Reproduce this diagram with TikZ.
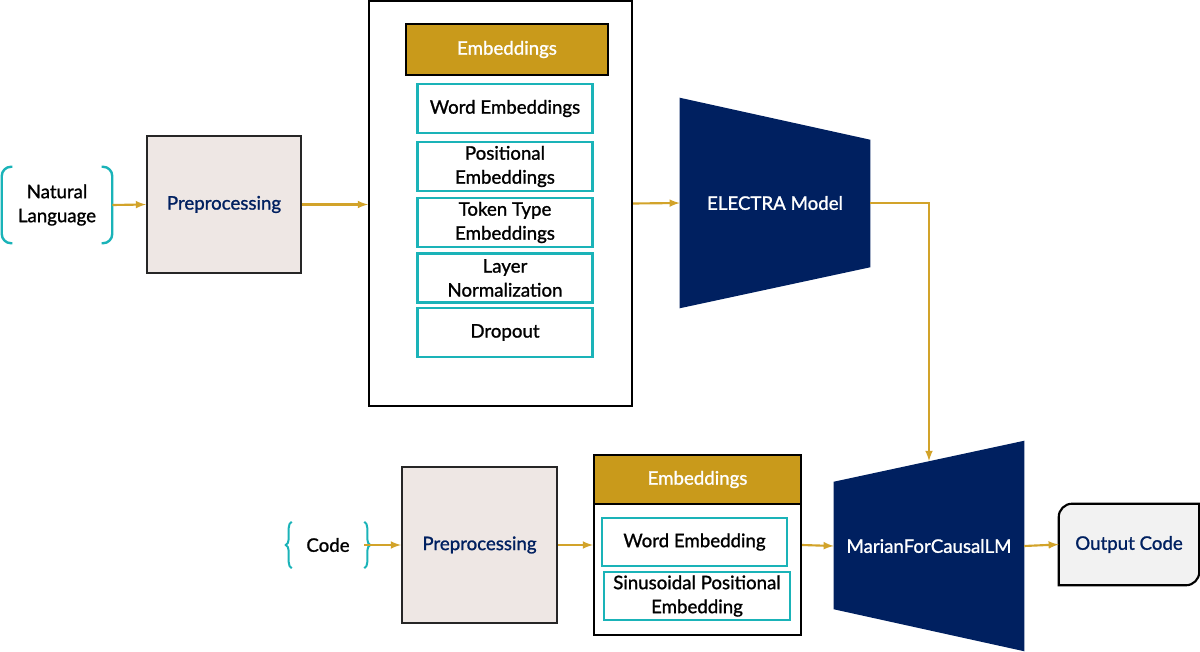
\documentclass[tikz,border=0pt]{standalone}
\usepackage{fontspec}
\setmainfont{Lato}[FakeBold=1.2]
\usetikzlibrary{arrows, shapes, decorations.pathreplacing, backgrounds}
\definecolor{gold}{HTML}{C99A1B}
\definecolor{arrowgold}{HTML}{D2A32A}
\definecolor{navy}{HTML}{002060}
\definecolor{tealline}{HTML}{1AB3B8}
\definecolor{prefill}{HTML}{EEE7E4}
\definecolor{outfill}{HTML}{F2F2F2}

\begin{document}
\begin{tikzpicture}[x=0.75pt, y=0.75pt, font=\fontsize{14}{18}\selectfont,
    flow/.style={arrowgold, line width=1.6pt, -latex},
    bracket/.style={tealline, line width=1.8pt, rounded corners=7pt},
    curly/.style={tealline, line width=1.5pt, decorate, decoration={brace, amplitude=4.5pt}},
    prebox/.style={draw=black!85, line width=1.6pt, fill=prefill, text=navy},
    headbox/.style={draw=black, line width=1.6pt, fill=gold, text=white},
    subbox/.style={draw=tealline, line width=1.8pt, fill=white, align=center, inner sep=0pt,
      minimum width=131.25pt, minimum height=36.75pt},
    model/.style={text=white, minimum width=142.5pt, minimum height=157.5pt}]
  \useasboundingbox (0,0) rectangle (1200,-652);

  % top row
  \node [align=center, minimum width=82.5pt, minimum height=57pt] (nl) at (57,-205) {Natural\\Language};
  \draw [bracket] ([xshift=8pt]nl.north west) -- (nl.north west) -- (nl.south west) -- ([xshift=8pt]nl.south west);
  \draw [bracket] ([xshift=-8pt]nl.north east) -- (nl.north east) -- (nl.south east) -- ([xshift=-8pt]nl.south east);
  \node [prebox, minimum width=115.5pt, minimum height=102.75pt] (pre1) at (224,-204.5) {Preprocessing};
  \node [draw, line width=1.6pt, minimum width=197.25pt, minimum height=303.75pt] (enc) at (500.5,-203.5) {};
  \node [headbox, minimum width=151.5pt, minimum height=38.25pt] (head1) at (507,-49.5) {Embeddings};
  \foreach \y/\name/\txt in {108.5/word/Word Embeddings, 166.5/pos/Positional\\Embeddings,
      222.5/type/Token Type\\Embeddings, 278/norm/Layer\\Normalization, 332.5/drop/Dropout}
    \node [subbox] (\name) at (505,-\y) {\txt};
  \node [model] (electra) at (775,-203) {ELECTRA Model};

  % bottom row
  \node [minimum width=54pt, minimum height=34.5pt] (code) at (328,-545) {Code};
  \draw [curly] (code.south west) -- (code.north west);
  \draw [curly] (code.north east) -- (code.south east);
  \node [prebox, minimum width=116.25pt, minimum height=117pt] (pre2) at (479.5,-545) {Preprocessing};
  \node [draw, line width=1.6pt, minimum width=155.25pt, minimum height=135pt] (dec) at (697.5,-545) {};
  \node [headbox, minimum width=155.25pt, minimum height=36.75pt] (head2) at (697.5,-479.5) {Embeddings};
  \node [subbox, minimum width=138.75pt, minimum height=36pt] (word2) at (694.5,-542) {Word Embedding};
  \node [subbox, minimum width=139.5pt, minimum height=36pt] (sin2) at (697,-596) {Sinusoidal Positional\\Embedding};
  \node [model] (marian) at (929,-546) {MarianForCausalLM};
  \node [text=navy, minimum width=105pt, minimum height=60.75pt] (out) at (1129,-544.5) {Output Code};

  \begin{scope}[on background layer]
    \fill [navy] (electra.north west) -- ([yshift=-31.5pt]electra.north east)
      -- ([yshift=30.75pt]electra.south east) -- (electra.south west) -- cycle;
    \fill [navy] ([yshift=-30.75pt]marian.north west) -- (marian.north east)
      -- (marian.south east) -- ([yshift=31.5pt]marian.south west) -- cycle;
    \filldraw [fill=outfill, draw=black, line width=1.6pt] (out.south west)
      -- ([yshift=-10pt]out.north west) arc [start angle=180, end angle=90, radius=10pt]
      -- (out.north east) -- ([yshift=10pt]out.south east) arc [start angle=0, end angle=-90, radius=10pt]
      -- cycle;
  \end{scope}

  \coordinate (mtop) at (929,-461);
  \draw [flow] (nl.east) -- (pre1.west);
  \draw [flow] (pre1.east) -- (pre1.east -| enc.west);
  \draw [flow] (enc.east) -- (electra.west);
  \draw [flow] (electra.east) -| (mtop);
  \draw [flow] (code.east) -- (pre2.west);
  \draw [flow] (pre2.east) -- (dec.west);
  \draw [flow] (dec.east) -- (marian.west);
  \draw [flow] (marian.east) -- (out.west);
\end{tikzpicture}
\end{document}
